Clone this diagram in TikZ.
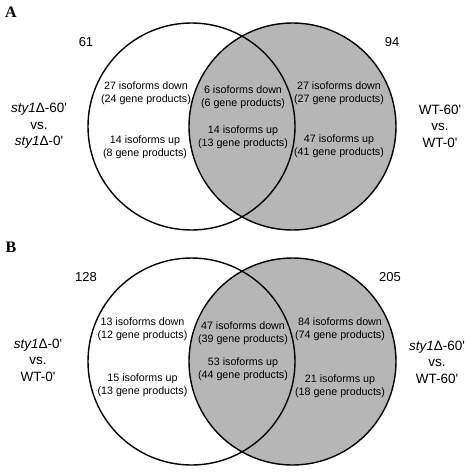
\documentclass[tikz,border=0pt]{standalone}
\usepackage{fontspec}
\newfontfamily\af{Liberation Sans}
\newfontfamily\panelfont{Liberation Serif}
\definecolor{vgray}{RGB}{182,182,182}
\tikzset{
  venn/.style={circle, minimum size=207pt, inner sep=0pt, outer sep=0pt, line width=1.4pt},
  intxt/.style={align=center, inner sep=0pt, font=\af\fontsize{10.7}{12.6}\selectfont},
  sidetxt/.style={align=center, inner sep=0pt, font=\af\fontsize{13.5}{16.5}\selectfont},
  numtxt/.style={inner sep=0pt, font=\af\fontsize{13}{15}\selectfont},
  paneltxt/.style={inner sep=0pt, font=\panelfont\bfseries\fontsize{16}{18}\selectfont}
}
\newcommand{\sty}{\textit{sty1}Δ}
\begin{document}
\begin{tikzpicture}[x=1pt,y=-1pt]
\useasboundingbox (0,0) rectangle (474,472);
% Panel A
\node[paneltxt] (pA) at (11,12) {A};
\node[venn, fill=white] (aL) at (191.5,126.5) {};
\node[venn, fill=vgray, draw] (aR) at (292.5,126.5) {};
\node[venn, draw] (aLo) at (191.5,126.5) {};
\node[numtxt] (n61) at (86,42) {61};
\node[numtxt] (n94) at (392,42) {94};
\node[sidetxt] (aleft) at (39,126) {\sty-60'\\vs.\\\sty-0'};
\node[sidetxt] (aright) at (440,126) {WT-60'\\vs.\\WT-0'};
\node[intxt] (a1) at (146,93) {27 isoforms down\\(24 gene products)};
\node[intxt] (a2) at (145,147) {14 isoforms up\\(8 gene products)};
\node[intxt] (a3) at (243,97.5) {6 isoforms down\\(6 gene products)};
\node[intxt] (a4) at (243,137) {14 isoforms up\\(13 gene products)};
\node[intxt] (a5) at (339,93.5) {27 isoforms down\\(27 gene products)};
\node[intxt] (a6) at (339,146.5) {47 isoforms up\\(41 gene products)};
% Panel B
\node[paneltxt] (pB) at (11,247) {B};
\node[venn, fill=white] (bL) at (191.5,361.5) {};
\node[venn, fill=vgray, draw] (bR) at (292.5,361.5) {};
\node[venn, draw] (bLo) at (191.5,361.5) {};
\node[numtxt] (n128) at (86,277) {128};
\node[numtxt] (n205) at (390,277) {205};
\node[sidetxt] (bleft) at (38,360) {\sty-0'\\vs.\\WT-0'};
\node[sidetxt] (bright) at (437,362) {\sty-60'\\vs.\\WT-60'};
\node[intxt] (b1) at (142.5,329) {13 isoforms down\\(12 gene products)};
\node[intxt] (b2) at (142.5,385) {15 isoforms up\\(13 gene products)};
\node[intxt] (b3) at (243,333) {47 isoforms down\\(39 gene products)};
\node[intxt] (b4) at (243,369) {53 isoforms up\\(44 gene products)};
\node[intxt] (b5) at (340,329.5) {84 isoforms down\\(74 gene products)};
\node[intxt] (b6) at (340,386.5) {21 isoforms up\\(18 gene products)};
\end{tikzpicture}
\end{document}
